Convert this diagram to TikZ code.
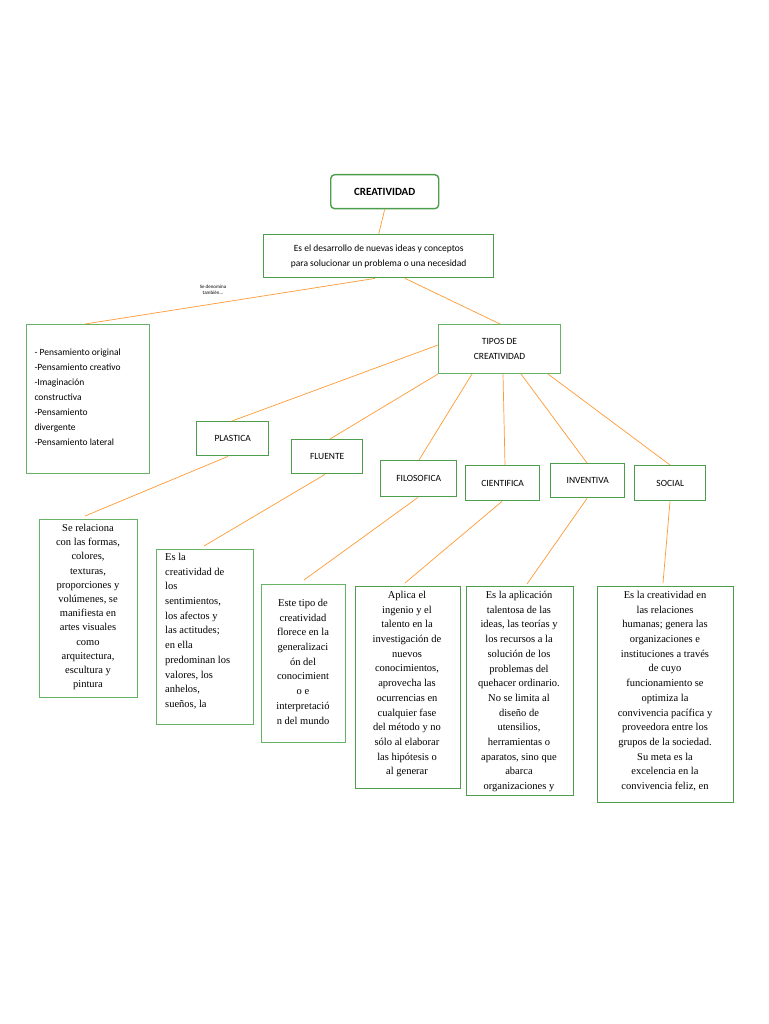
\documentclass[tikz,border=0pt]{standalone}
\usepackage{fontspec}
\setmainfont{Liberation Serif}
\newfontfamily\calfont{Carlito}
\begin{document}
\begin{tikzpicture}[x=1pt,y=-1pt,
  gbox/.style={draw=green!45!black!70!white,line width=1.4pt,inner sep=0pt},
  hbox/.style={draw=green!50!black!60!white,line width=1pt,inner sep=0pt},
  lab/.style={font=\calfont\fontsize{9.5}{15}\selectfont,align=center},
  desc/.style={font=\fontsize{10.5}{14.7}\selectfont,align=center,anchor=north,inner sep=0pt},
  con/.style={draw=orange!80!white,line width=0.7pt}]
\useasboundingbox (0,0) rectangle (768,1024);
\def\bx#1#2#3#4#5#6{\node[#6,minimum width=#4-#2,minimum height=#5-#3,anchor=north west] (#1) at (#2,#3) {};}
\bx{cre}{330}{174}{438}{208}{gbox,rounded corners=4pt}
\node[lab,font=\calfont\bfseries\fontsize{11}{13}\selectfont] at (cre) {CREATIVIDAD};
\bx{def}{263}{234}{493}{277}{gbox}
\node[lab] at (def) {Es el desarrollo de nuevas ideas y conceptos\\para solucionar un problema o una necesidad};
\bx{lst}{26}{324}{149}{473}{hbox}
\node[lab,align=left,anchor=north west] at (31,345) {- Pensamiento original\\-Pensamiento creativo\\-Imaginación\\constructiva\\-Pensamiento\\divergente\\-Pensamiento lateral};
\bx{tip}{438}{324}{560}{373}{hbox}
\node[lab] at (tip) {TIPOS DE\\CREATIVIDAD};
\bx{pla}{196}{421}{268}{455}{gbox}\node[lab] at (pla) {PLASTICA};
\bx{flu}{291}{439}{362}{473}{gbox}\node[lab] at (flu) {FLUENTE};
\bx{fil}{380}{460}{456}{496}{gbox}\node[lab] at (fil) {FILOSOFICA};
\bx{cie}{465}{465}{539}{500}{gbox}\node[lab] at (cie) {CIENTIFICA};
\bx{inv}{550}{463}{624}{497}{gbox}\node[lab] at (inv) {INVENTIVA};
\bx{soc}{634}{465}{705}{500}{gbox}\node[lab] at (soc) {SOCIAL};
\bx{dpla}{39}{519}{137}{697}{hbox}
\node[desc,font=\fontsize{10.5}{14.2}\selectfont] at (88,524) {Se relaciona\\con las formas,\\colores,\\texturas,\\proporciones y\\volúmenes, se\\manifiesta en\\artes visuales\\como\\arquitectura,\\escultura y\\pintura};
\bx{dflu}{156}{549}{253}{724}{hbox}
\node[desc,align=left,anchor=north west] at (165,553) {Es la\\creatividad de\\los\\sentimientos,\\los afectos y\\las actitudes;\\en ella\\predominan los\\valores, los\\anhelos,\\sueños, la};
\bx{dfil}{261}{584}{345}{742}{hbox}
\node[desc] at (303,599) {Este tipo de\\creatividad\\florece en la\\generalizaci\\ón del\\conocimient\\o e\\interpretació\\n del mundo};
\bx{dcie}{355}{586}{460}{788}{gbox}
\node[desc] at (407,591) {Aplica el\\ingenio y el\\talento en la\\investigación de\\nuevos\\conocimientos,\\aprovecha las\\ocurrencias en\\cualquier fase\\del método y no\\sólo al elaborar\\las hipótesis o\\al generar};
\bx{dinv}{466}{586}{573}{795}{gbox}
\node[desc] at (519,591) {Es la aplicación\\talentosa de las\\ideas, las teorías y\\los recursos a la\\solución de los\\problemas del\\quehacer ordinario.\\No se limita al\\diseño de\\utensilios,\\herramientas o\\aparatos, sino que\\abarca\\organizaciones y};
\bx{dsoc}{597}{586}{733}{802}{gbox}
\node[desc] at (665,591) {Es la creatividad en\\las relaciones\\humanas; genera las\\organizaciones e\\instituciones a través\\de cuyo\\funcionamiento se\\optimiza la\\convivencia pacífica y\\proveedora entre los\\grupos de la sociedad.\\Su meta es la\\excelencia en la\\convivencia feliz, en};
% connectors
\draw[con] (cre.south) -- (def.north);
\draw[con] ([xshift=112pt]def.south west) -- ([xshift=59pt]lst.north west);
\node[font=\calfont\fontsize{5}{6}\selectfont,align=center] (sdn) at (213,290) {Se denomina\\también...};
\draw[con] ([xshift=142pt]def.south west) -- ([xshift=62pt]tip.north west);
\draw[con] ([yshift=-21pt]tip.north west) -- ([xshift=36pt]pla.north west);
\draw[con] (tip.south west) -- ([xshift=39pt]flu.north west);
\draw[con] ([xshift=34pt]tip.south west) -- ([xshift=39pt]fil.north west);
\draw[con] ([xshift=65pt]tip.south west) -- ([xshift=40pt]cie.north west);
\draw[con] ([xshift=83pt]tip.south west) -- ([xshift=37pt]inv.north west);
\draw[con] ([xshift=110pt]tip.south west) -- ([xshift=36pt]soc.north west);
\draw[con] ([xshift=32pt]pla.south west) -- ([xshift=46pt,yshift=3pt]dpla.north west);
\draw[con] ([xshift=34pt]flu.south west) -- ([xshift=48pt,yshift=3pt]dflu.north west);
\draw[con] ([xshift=38pt]fil.south west) -- ([xshift=43pt,yshift=4pt]dfil.north west);
\draw[con] ([xshift=37pt]cie.south west) -- ([xshift=50pt,yshift=3pt]dcie.north west);
\draw[con] ([xshift=37pt]inv.south west) -- ([xshift=61pt,yshift=2pt]dinv.north west);
\draw[con] ([xshift=36pt]soc.south west) -- ([xshift=66pt,yshift=3pt]dsoc.north west);
\end{tikzpicture}
\end{document}
